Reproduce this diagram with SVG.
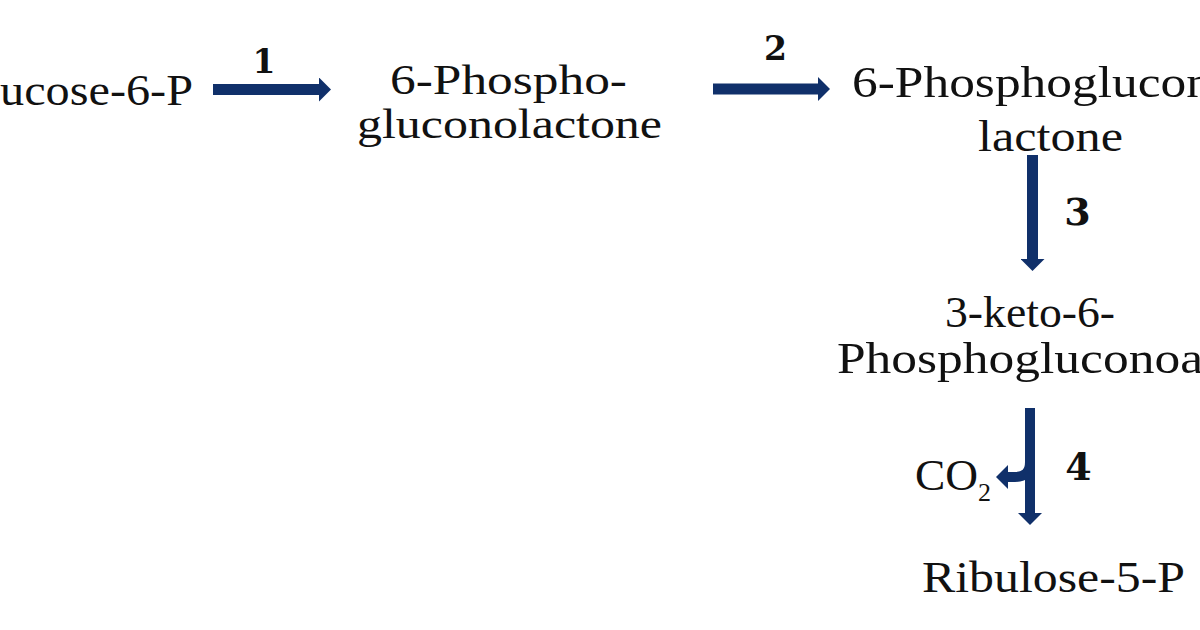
<svg xmlns="http://www.w3.org/2000/svg" width="1200" height="630" viewBox="0 0 1200 630">
  <style>
    .t { font-family: "Liberation Serif", "Times New Roman", serif; font-size: 45px; fill: #111; }
    .t2 { font-family: "Liberation Serif", "Times New Roman", serif; font-size: 42px; fill: #111; }
    .sub { font-family: "Liberation Serif", "Times New Roman", serif; font-size: 26px; fill: #111; }
    .n { font-family: "DejaVu Serif", "Liberation Serif", serif; font-size: 33px; font-weight: bold; fill: #111; text-anchor: middle; }
    .nb { font-size: 38px; }
    .a { fill: none; stroke: #10306a; stroke-width: 11; stroke-linecap: butt; marker-end: url(#head); }
  </style>
  <defs>
    <marker id="head" markerUnits="userSpaceOnUse" markerWidth="12" markerHeight="24" viewBox="0 0 12 24" refX="0" refY="12" orient="auto">
      <path d="M0,0 L12,12 L0,24 Z" fill="#10306a"/>
    </marker>
  </defs>
  <rect width="1200" height="630" fill="#ffffff"/>

  <g id="glucose6p">
    <text class="t" x="0" y="105" textLength="193" lengthAdjust="spacingAndGlyphs">ucose-6-P</text>
  </g>
  <g id="phosphogluconolactone">
    <text class="t2" x="390" y="94" textLength="237" lengthAdjust="spacingAndGlyphs">6-Phospho-</text>
    <text class="t2" x="357" y="138" textLength="305" lengthAdjust="spacingAndGlyphs">gluconolactone</text>
  </g>
  <g id="phosphoglucono-lactone">
    <text class="t" x="852" y="97" textLength="360" lengthAdjust="spacingAndGlyphs">6-Phosphoglucon</text>
    <text class="t" x="978" y="151" textLength="145" lengthAdjust="spacingAndGlyphs">lactone</text>
  </g>
  <g id="keto-phosphogluconoate">
    <text class="t" x="945" y="327" textLength="170" lengthAdjust="spacingAndGlyphs">3-keto-6-</text>
    <text class="t" x="837" y="373" textLength="366" lengthAdjust="spacingAndGlyphs">Phosphogluconoa</text>
  </g>
  <g id="co2">
    <text class="t" x="915" y="490" textLength="63" lengthAdjust="spacingAndGlyphs">CO</text>
    <text class="sub" x="978" y="501">2</text>
  </g>
  <g id="ribulose5p">
    <text class="t" x="922" y="592" textLength="263" lengthAdjust="spacingAndGlyphs">Ribulose-5-P</text>
  </g>

  <g id="connectors">
    <line class="a" x1="213" y1="89.5" x2="319" y2="89.5"/>
    <line class="a" x1="713" y1="89" x2="818" y2="89"/>
    <line class="a" x1="1032.5" y1="155" x2="1032.5" y2="259"/>
    <path class="a" style="stroke-width:10" d="M1030,438 L1030,462 Q1030,477 1015,477 L1008,477"/>
    <line class="a" style="stroke-width:10" x1="1030" y1="408" x2="1030" y2="513"/>
  </g>

  <g id="labels">
    <text class="n" x="264" y="73">1</text>
    <text class="n" x="775.5" y="60">2</text>
    <text class="n nb" x="1077.5" y="225">3</text>
    <text class="n nb" x="1078.5" y="480">4</text>
  </g>
</svg>
